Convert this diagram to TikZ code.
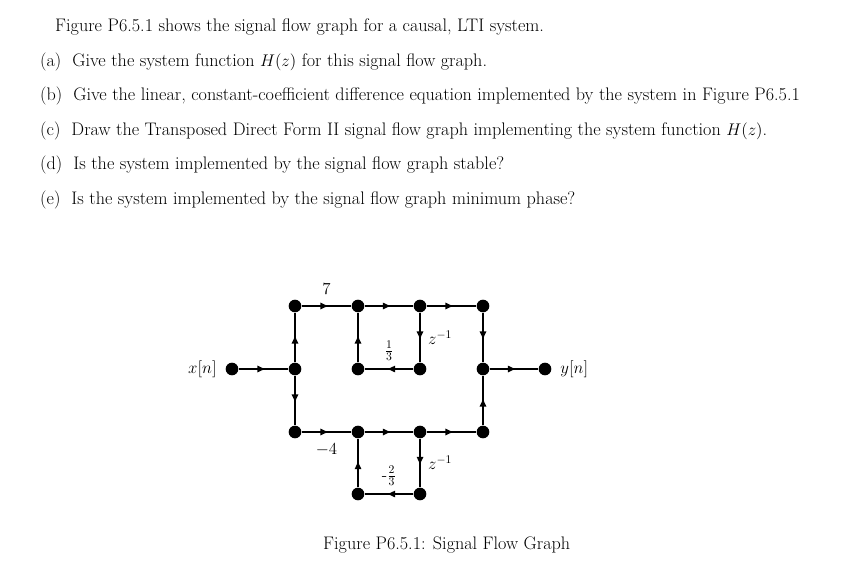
\documentclass[tikz,border=0pt]{standalone}
\usetikzlibrary{decorations.markings,arrows.meta}
\begin{document}
\begin{tikzpicture}[x=0.03cm,y=-0.03cm,
  dot/.style={circle,fill=black,inner sep=0pt,minimum size=0.38cm},
  branch/.style={line width=1.3pt,postaction={decorate},
    decoration={markings,mark=at position 0.55 with {\arrow{Latex[length=2.6mm,width=2.2mm]}}}},
  txt/.style={anchor=west,inner sep=0pt,font=\fontsize{15.5}{18}\selectfont},
  gain/.style={font=\fontsize{14}{16}\selectfont},
]
\useasboundingbox (0,0) rectangle (864,566);
%text
\node[txt] (t0) at (55,27) {Figure P6.5.1 shows the signal flow graph for a causal, LTI system.};
\node[txt] (ta) at (40,62) {(a)\ \ Give the system function $H(z)$ for this signal flow graph.};
\node[txt] (tb) at (40,96) {(b)\ \ Give the linear, constant-coefficient difference equation implemented by the system in Figure P6.5.1};
\node[txt] (tc) at (40,131) {(c)\ \ Draw the Transposed Direct Form II signal flow graph implementing the system function $H(z)$.};
\node[txt] (td) at (40,165) {(d)\ \ Is the system implemented by the signal flow graph stable?};
\node[txt] (te) at (40,200) {(e)\ \ Is the system implemented by the signal flow graph minimum phase?};

%nodes
\node[dot] (x)  at (232,369) {};
\node[dot] (s)  at (295,369) {};
\node[dot] (a1) at (295,306) {};
\node[dot] (a2) at (358,306) {};
\node[dot] (a3) at (420,306) {};
\node[dot] (a4) at (483,306) {};
\node[dot] (m2) at (358,369) {};
\node[dot] (m3) at (420,369) {};
\node[dot] (o)  at (483,369) {};
\node[dot] (y)  at (545,369) {};
\node[dot] (b1) at (295,432) {};
\node[dot] (b2) at (358,432) {};
\node[dot] (b3) at (420,432) {};
\node[dot] (b4) at (483,432) {};
\node[dot] (c2) at (358,494) {};
\node[dot] (c3) at (420,494) {};
\node[font=\fontsize{15}{18}\selectfont,left=4pt] at (x.west) {$x[n]$};
\node[font=\fontsize{15}{18}\selectfont,right=4pt] at (y.east) {$y[n]$};

%branches
\draw[branch] (x) -- (s);
\draw[branch] (s) -- (a1);
\draw[branch] (s) -- (b1);
\draw[branch] (a1) -- node[gain,above=6pt] {$7$} (a2);
\draw[branch] (a2) -- (a3);
\draw[branch] (a3) -- (a4);
\draw[branch] (a3) -- node[gain,right=3pt] {$z^{-1}$} (m3);
\draw[branch] (m3) -- node[gain,above=3pt] {$\frac{1}{3}$} (m2);
\draw[branch] (m2) -- (a2);
\draw[branch] (a4) -- (o);
\draw[branch] (o) -- (y);
\draw[branch] (b1) -- node[gain,below=6pt] {$-4$} (b2);
\draw[branch] (b2) -- (b3);
\draw[branch] (b3) -- (b4);
\draw[branch] (b4) -- (o);
\draw[branch] (b3) -- node[gain,right=3pt] {$z^{-1}$} (c3);
\draw[branch] (c3) -- node[gain,above=3pt] {-$\frac{2}{3}$} (c2);
\draw[branch] (c2) -- (b2);

%caption
\node[txt] (cap) at (323,545) {Figure P6.5.1: Signal Flow Graph};
\end{tikzpicture}
\end{document}
